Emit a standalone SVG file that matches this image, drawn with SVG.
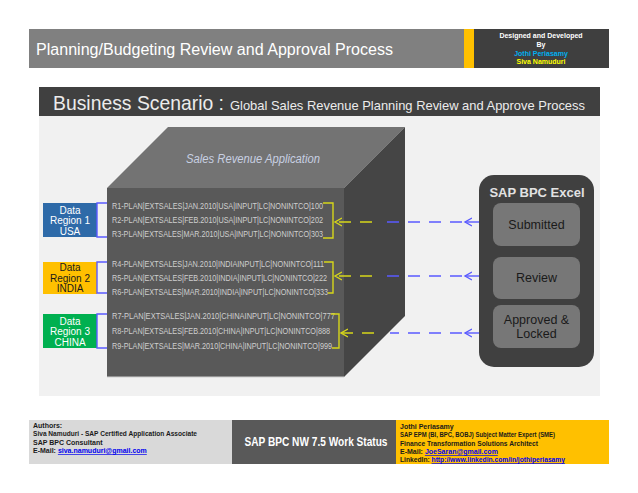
<svg xmlns="http://www.w3.org/2000/svg" width="638" height="493" viewBox="0 0 638 493">
<style>
text{font-family:"Liberation Sans",Arial,sans-serif}
.row{font-size:8.5px;fill:#cfcfcf}
.reg{font-size:10px;text-anchor:middle}
.st{font-size:12.5px;fill:#1a1a1a;text-anchor:middle}
.ft{font-size:7px;font-weight:bold;fill:#1a1a1a}
.hd{font-size:7px;font-weight:bold;text-anchor:middle}
.blu{stroke:#5a5aff;stroke-width:1.4;fill:none}
.yel{stroke:#d6d61a;stroke-width:1.4;fill:none}
.dash{stroke-dasharray:12 9}
.lk{fill:#0000ee;text-decoration:underline}
</style>
<defs>
<marker id="ab" markerUnits="userSpaceOnUse" markerWidth="12" markerHeight="12" refX="7" refY="6" orient="auto"><path d="M0,2 L7,6 L0,10" fill="none" stroke="#5a5aff" stroke-width="1.4"/></marker>
<marker id="ay" markerUnits="userSpaceOnUse" markerWidth="12" markerHeight="12" refX="7" refY="6" orient="auto"><path d="M0,2 L7,6 L0,10" fill="none" stroke="#d6d61a" stroke-width="1.4"/></marker>
</defs>
<rect width="638" height="493" fill="#ffffff"/>
<g id="header">
<rect x="29" y="29" width="435" height="39" fill="#808080"/>
<rect x="464" y="29" width="10" height="39" fill="#ffc000"/>
<rect x="474" y="29" width="135" height="39" fill="#3f3f3f"/>
<text x="36" y="55" font-size="16" fill="#ffffff" textLength="357" lengthAdjust="spacingAndGlyphs">Planning/Budgeting Review and Approval Process</text>
<text class="hd" x="541" y="37.5" fill="#ffffff">Designed and Developed</text>
<text class="hd" x="541" y="46.5" fill="#ffffff">By</text>
<text class="hd" x="541" y="55.5" fill="#00b0f0">Jothi Periasamy</text>
<text class="hd" x="541" y="63.5" fill="#ffff00">Siva Namuduri</text>
</g>
<g id="scenario">
<rect x="39" y="87" width="561" height="29" fill="#404040"/>
<rect x="39" y="116" width="561" height="280" fill="#f1f1f1"/>
<text x="53" y="110" font-size="21" fill="#ececec" textLength="171" lengthAdjust="spacingAndGlyphs">Business Scenario :</text>
<text x="230" y="110" font-size="13.5" fill="#ececec" textLength="355" lengthAdjust="spacingAndGlyphs">Global Sales Revenue Planning Review  and Approve Process</text>
</g>
<g id="cube">
<rect x="107" y="188" width="237" height="189" fill="#595959"/>
<line x1="107" y1="377" x2="344" y2="377" stroke="#d0d0d0" stroke-width="1"/>
<polygon points="107,188 168,127 405,127 344,188" fill="#737373"/>
<polygon points="344,188 405,127 405,316 344,377" fill="#454545"/>
<text x="253" y="163" font-size="12" font-style="italic" fill="#c8d0e2" text-anchor="middle" textLength="134" lengthAdjust="spacingAndGlyphs">Sales Revenue Application</text>
<text class="row" x="112" y="209" textLength="211" lengthAdjust="spacingAndGlyphs">R1-PLAN|EXTSALES|JAN.2010|USA|INPUT|LC|NONINTCO|100</text>
<text class="row" x="112" y="223" textLength="211" lengthAdjust="spacingAndGlyphs">R2-PLAN|EXTSALES|FEB.2010|USA|INPUT|LC|NONINTCO|202</text>
<text class="row" x="112" y="237" textLength="211" lengthAdjust="spacingAndGlyphs">R3-PLAN|EXTSALES|MAR.2010|USA|INPUT|LC|NONINTCO|303</text>
<text class="row" x="112" y="267" textLength="212" lengthAdjust="spacingAndGlyphs">R4-PLAN|EXTSALES|JAN.2010|INDIAINPUT|LC|NONINTCO|111</text>
<text class="row" x="112" y="281" textLength="215" lengthAdjust="spacingAndGlyphs">R5-PLAN|EXTSALES|FEB.2010|INDIA|INPUT|LC|NONINTCO|222</text>
<text class="row" x="112" y="295" textLength="216" lengthAdjust="spacingAndGlyphs">R6-PLAN|EXTSALES|MAR.2010|INDIA|INPUT|LC|NONINTCO|333</text>
<text class="row" x="112" y="319" textLength="223" lengthAdjust="spacingAndGlyphs">R7-PLAN|EXTSALES|JAN.2010|CHINAINPUT|LC|NONINTCO|777</text>
<text class="row" x="112" y="334" textLength="218" lengthAdjust="spacingAndGlyphs">R8-PLAN|EXTSALES|FEB.2010|CHINA|INPUT|LC|NONINTCO|888</text>
<text class="row" x="112" y="349" textLength="220" lengthAdjust="spacingAndGlyphs">R9-PLAN|EXTSALES|MAR.2010|CHINA|INPUT|LC|NONINTCO|999</text>
</g>
<g id="region1">
<rect x="43" y="203" width="54" height="34" fill="#2e6aa8"/>
<text class="reg" x="70" y="213.5" fill="#ffffff">Data</text>
<text class="reg" x="70" y="224" fill="#ffffff">Region 1</text>
<text class="reg" x="70" y="234.5" fill="#ffffff">USA</text>
</g>
<g id="region2">
<rect x="43" y="262" width="54" height="32" fill="#ffc000"/>
<text class="reg" x="70" y="271" fill="#1a1a1a">Data</text>
<text class="reg" x="70" y="281.5" fill="#1a1a1a">Region 2</text>
<text class="reg" x="70" y="292" fill="#1a1a1a">INDIA</text>
</g>
<g id="region3">
<rect x="43" y="314" width="54" height="34" fill="#00b050"/>
<text class="reg" x="70" y="324.5" fill="#ffffff">Data</text>
<text class="reg" x="70" y="335" fill="#ffffff">Region 3</text>
<text class="reg" x="70" y="345.5" fill="#ffffff">CHINA</text>
</g>
<g id="excel">
<rect x="479" y="175" width="115" height="192" rx="15" fill="#404040"/>
<text x="537" y="197" font-size="13" font-weight="bold" fill="#e2e2e2" text-anchor="middle">SAP BPC Excel</text>
</g>
<g id="submitted">
<rect x="493" y="203" width="87" height="43" rx="8" fill="#777777"/>
<text class="st" x="536.5" y="229">Submitted</text>
</g>
<g id="review">
<rect x="493" y="257" width="87" height="42" rx="8" fill="#777777"/>
<text class="st" x="536.5" y="282">Review</text>
</g>
<g id="approved">
<rect x="493" y="305" width="87" height="43" rx="8" fill="#777777"/>
<text class="st" x="536.5" y="324">Approved &amp;</text>
<text class="st" x="536.5" y="338">Locked</text>
</g>
<g id="connectors">
<path class="blu" d="M107,203 H97 V237 H107"/>
<path class="blu" d="M107,262 H97 V293 H107"/>
<path class="blu" d="M107,314 H97 V348 H107"/>
<path class="yel" d="M323,203 H333 V238 H323"/>
<path class="yel" d="M324,262 H333 V293 H328"/>
<path class="yel" d="M331,314 H339 V348 H332"/>
<path class="blu" d="M479,222 H465" marker-end="url(#ab)"/>
<path class="blu dash" d="M462,222 H382"/>
<path class="yel dash" d="M372,222 H335" marker-end="url(#ay)"/>
<path class="blu" d="M479,276 H465" marker-end="url(#ab)"/>
<path class="blu dash" d="M462,276 H382"/>
<path class="yel dash" d="M372,276 H335" marker-end="url(#ay)"/>
<path class="blu" d="M479,333 H465" marker-end="url(#ab)"/>
<path class="blu dash" d="M462,333 H390"/>
<path class="yel dash" d="M374,333 H341" marker-end="url(#ay)"/>
</g>
<g id="footer">
<rect x="29" y="420" width="203" height="44" fill="#d9d9d9"/>
<rect x="232" y="420" width="164" height="44" fill="#595959"/>
<rect x="396" y="420" width="213" height="44" fill="#ffc000"/>
<text class="ft" x="33" y="427.5">Authors:</text>
<text class="ft" x="33" y="436" textLength="164" lengthAdjust="spacingAndGlyphs">Siva Namuduri - SAP Certified Application Associate</text>
<text class="ft" x="33" y="444.5">SAP BPC Consultant</text>
<text class="ft" x="33" y="453">E-Mail: <tspan class="lk">siva.namuduri@gmail.com</tspan></text>
<text x="316" y="446" font-size="12" font-weight="bold" fill="#ffffff" text-anchor="middle" textLength="143" lengthAdjust="spacingAndGlyphs">SAP BPC NW 7.5 Work Status</text>
<text class="ft" x="400" y="428.5">Jothi Periasamy</text>
<text class="ft" x="400" y="437" textLength="155" lengthAdjust="spacingAndGlyphs">SAP EPM (BI, BPC, BOBJ) Subject Matter Expert (SME)</text>
<text class="ft" x="400" y="445.5" textLength="138" lengthAdjust="spacingAndGlyphs">Finance Transformation Solutions Architect</text>
<text class="ft" x="400" y="454">E-Mail: <tspan class="lk">JoeSaran@gmail.com</tspan></text>
<text class="ft" x="400" y="462" textLength="165" lengthAdjust="spacingAndGlyphs">LinkedIn: <tspan class="lk">http://www.linkedin.com/in/jothiperiasamy</tspan></text>
</g>
</svg>
